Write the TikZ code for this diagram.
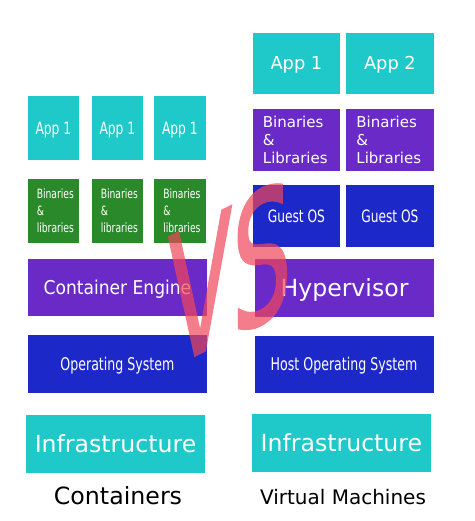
\documentclass[tikz,border=0pt]{standalone}
\usepackage{fontspec}
\setmainfont{DejaVu Sans}
\newfontfamily\condfont{DejaVu Sans Condensed}
\newfontfamily\narrowfont[FakeStretch=0.8]{DejaVu Sans Condensed}
\newfontfamily\vsfont[FakeBold=1.5]{DejaVu Sans}
\definecolor{cyanbox}{RGB}{32,201,201}
\definecolor{greenbox}{RGB}{42,138,42}
\definecolor{purplebox}{RGB}{106,42,200}
\definecolor{bluebox}{RGB}{28,40,200}
\definecolor{vsred}{RGB}{240,70,90}
\begin{document}
\begin{tikzpicture}[x=1pt,y=-1pt,
  blk/.style={inner sep=0pt, text=white, align=center},
  capc/.style={text height=#1, text depth=0pt},
  lapp/.style={blk, fill=cyanbox, minimum width=51.3pt, minimum height=64pt,
    font=\narrowfont\fontsize{17}{17}\selectfont, capc=12.4pt},
  lbin/.style={blk, fill=greenbox, minimum height=64.3pt, inner xsep=9pt,
    text width=33.3pt, align=left, font=\narrowfont\fontsize{12.8}{17}\selectfont},
  rapp/.style={blk, fill=cyanbox, minimum width=87.5pt, minimum height=61.3pt,
    font=\fontsize{17.8}{17.8}\selectfont, capc=13pt},
  rbin/.style={blk, fill=purplebox, minimum height=61.7pt, inner xsep=10.3pt,
    text width=67pt, align=left, font=\fontsize{15}{18.3}\selectfont},
  rguest/.style={blk, fill=bluebox, minimum width=87.5pt, minimum height=61.7pt,
    font=\narrowfont\fontsize{17}{17}\selectfont, capc=12.4pt},
  wide/.style={blk, minimum width=179pt, minimum height=57.5pt},
  caption/.style={inner sep=0pt, text=black, font=\fontsize{#1}{#1}\selectfont, anchor=base},
  vs/.style={inner sep=0pt, text=vsred, anchor=base west,
    font=\vsfont\fontsize{180}{180}\selectfont}
]
\useasboundingbox (0,0) rectangle (474,521);
% left: containers
\node[lapp] (lapp1) at (53.4,128) {App 1};
\node[lapp] (lapp2) at (117.4,128) {App 1};
\node[lapp] (lapp3) at (179.9,128) {App 1};
\node[lbin] (lbin1) at (53.4,210.9) {Binaries\\\&\\libraries};
\node[lbin] (lbin2) at (117.4,210.9) {Binaries\\\&\\libraries};
\node[lbin] (lbin3) at (179.9,210.9) {Binaries\\\&\\libraries};
\node[wide, fill=purplebox, font=\condfont\fontsize{19}{19}\selectfont, capc=13.9pt] (engine) at (117.5,287.4) {Container Engine};
\node[wide, fill=bluebox, font=\narrowfont\fontsize{17.5}{17.5}\selectfont, capc=12.8pt] (los) at (117.4,363.9) {Operating System};
\node[wide, fill=cyanbox, font=\fontsize{23.6}{23.6}\selectfont, capc=17.2pt] (linfra) at (115.5,443.9) {Infrastructure};
\node[caption=23.7] (lcap) at (118,504) {Containers};
% right: virtual machines
\node[rapp] (rapp1) at (296.4,63.4) {App 1};
\node[rapp] (rapp2) at (389.9,63.4) {App 2};
\node[rbin] (rbin1) at (296.4,139.9) {Binaries\\\&\\Libraries};
\node[rbin] (rbin2) at (389.9,139.9) {Binaries\\\&\\Libraries};
\node[rguest] (guest1) at (296.4,215.9) {Guest OS};
\node[rguest] (guest2) at (389.9,215.9) {Guest OS};
\node[wide, fill=purplebox, font=\fontsize{23.6}{23.6}\selectfont, capc=17.2pt] (hyper) at (344.5,287.9) {Hypervisor};
\node[wide, fill=bluebox, font=\narrowfont\fontsize{17.5}{17.5}\selectfont, capc=12.8pt] (hos) at (344,364.5) {Host Operating System};
\node[wide, fill=cyanbox, font=\fontsize{23.6}{23.6}\selectfont, capc=17.2pt] (rinfra) at (341.4,442.9) {Infrastructure};
\node[caption=20] (rcap) at (343,504) {Virtual Machines};
% VS overlay
\begin{scope}[transparency group, opacity=0.7, shift={(168,369)}]
\node[vs, cm={0.52,0.26,0,1,(0,0)}] (vsmark) at (0,0) {VS};
\end{scope}
\end{tikzpicture}
\end{document}
